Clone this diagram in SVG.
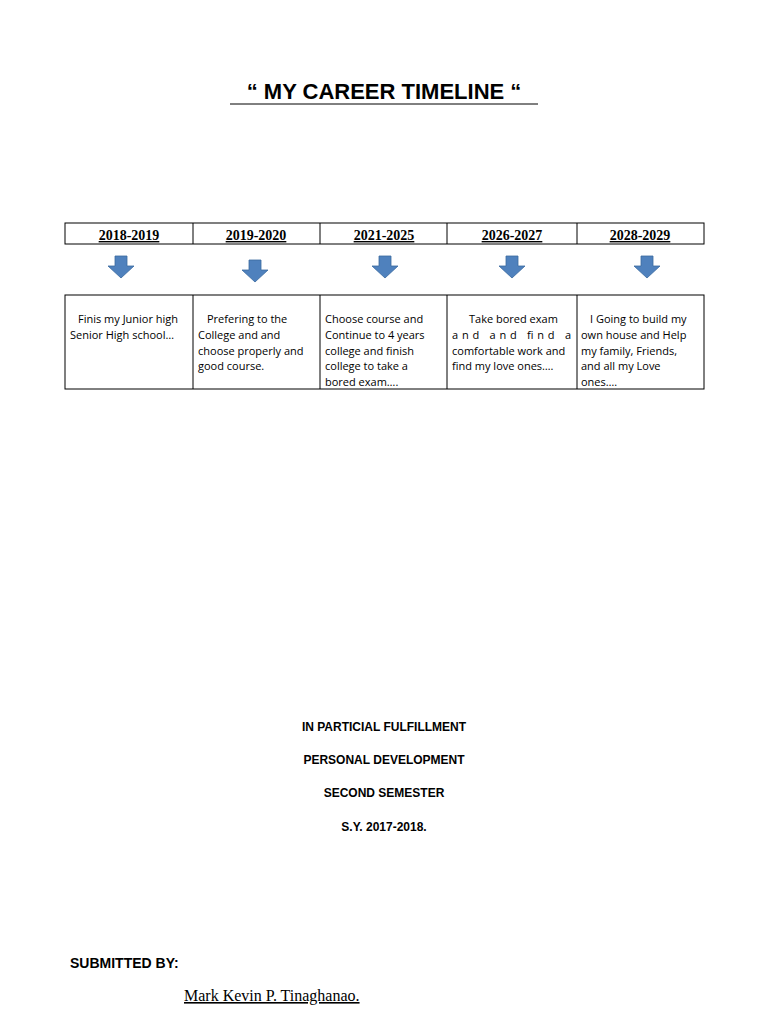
<svg xmlns="http://www.w3.org/2000/svg" width="768" height="1024" viewBox="0 0 768 1024">
<defs>
<style>
.t{font-family:"Liberation Sans",Arial,sans-serif;font-weight:bold;fill:#000}
.y{font-family:"Liberation Serif",serif;font-weight:bold;font-size:14px;text-decoration:underline;text-anchor:middle}
.b{font-family:"Open Sans","Liberation Sans",sans-serif;font-size:11px;fill:#000}
.c{fill:#fff;stroke:#000;stroke-width:1}
.a{fill:#4f81bd;stroke:#3a6aa0;stroke-width:0.8}
.s{font-family:"Liberation Sans",Arial,sans-serif;font-weight:bold;font-size:12px;text-anchor:middle}
</style>
<path id="ar" d="M-6,0 H6 V10 H13 L0,22 L-13,10 H-6 Z"/>
</defs>
<rect width="768" height="1024" fill="#fff"/>
<text x="384" y="99" class="t" font-size="22" text-anchor="middle">“ MY CAREER TIMELINE “</text>
<line x1="230" y1="104" x2="538" y2="104" stroke="#000" stroke-width="1"/>
<g id="years">
<rect class="c" x="65" y="223" width="639" height="21"/>
<line x1="193" y1="223" x2="193" y2="244" stroke="#000"/>
<line x1="320" y1="223" x2="320" y2="244" stroke="#000"/>
<line x1="447" y1="223" x2="447" y2="244" stroke="#000"/>
<line x1="577" y1="223" x2="577" y2="244" stroke="#000"/>
<text class="y" x="129" y="240">2018-2019</text>
<text class="y" x="256" y="240">2019-2020</text>
<text class="y" x="384" y="240">2021-2025</text>
<text class="y" x="512" y="240">2026-2027</text>
<text class="y" x="640" y="240">2028-2029</text>
</g>
<g id="connectors">
<use href="#ar" class="a" x="121" y="256"/>
<use href="#ar" class="a" x="255" y="260"/>
<use href="#ar" class="a" x="385" y="256"/>
<use href="#ar" class="a" x="512" y="256"/>
<use href="#ar" class="a" x="647" y="256"/>
</g>
<g id="boxes">
<rect class="c" x="65" y="295" width="639" height="94"/>
<line x1="193" y1="295" x2="193" y2="389" stroke="#000"/>
<line x1="320" y1="295" x2="320" y2="389" stroke="#000"/>
<line x1="447" y1="295" x2="447" y2="389" stroke="#000"/>
<line x1="577" y1="295" x2="577" y2="389" stroke="#000"/>
<text class="b"><tspan x="78" y="323">Finis my Junior high</tspan><tspan x="70" y="339">Senior High school…</tspan></text>
<text class="b"><tspan x="207" y="323">Prefering to the</tspan><tspan x="198" y="339">College and and</tspan><tspan x="198" y="355">choose properly and</tspan><tspan x="198" y="370">good course.</tspan></text>
<text class="b"><tspan x="325" y="323">Choose course and</tspan><tspan x="325" y="339">Continue to 4 years</tspan><tspan x="325" y="355">college and finish</tspan><tspan x="325" y="370">college to take a</tspan><tspan x="325" y="386">bored exam….</tspan></text>
<text class="b"><tspan x="469" y="323">Take  bored  exam</tspan><tspan x="452" y="339" textLength="119">and   and   find   a</tspan><tspan x="452" y="355">comfortable work and</tspan><tspan x="452" y="370">find my love ones….</tspan></text>
<text class="b"><tspan x="590" y="323">I Going to build my</tspan><tspan x="581" y="339">own house and Help</tspan><tspan x="581" y="355">my family, Friends,</tspan><tspan x="581" y="370">and all my Love</tspan><tspan x="581" y="386">ones….</tspan></text>
</g>
<text class="s" x="384" y="731">IN PARTICIAL FULFILLMENT</text>
<text class="s" x="384" y="764">PERSONAL DEVELOPMENT</text>
<text class="s" x="384" y="797">SECOND SEMESTER</text>
<text class="s" x="384" y="831">S.Y. 2017-2018.</text>
<text x="70" y="968" class="t" font-size="14">SUBMITTED BY:</text>
<text x="184" y="1001" font-family="Liberation Serif,serif" font-size="16" text-decoration="underline">Mark Kevin P. Tinaghanao.</text>
</svg>
